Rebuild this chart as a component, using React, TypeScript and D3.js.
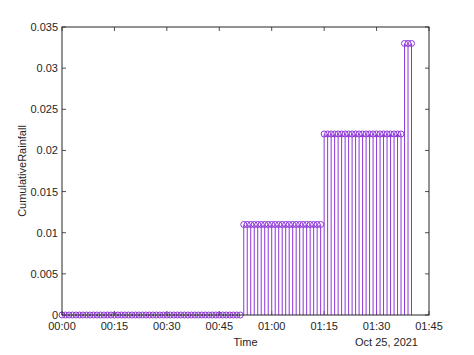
import * as d3 from "d3";
import React, { useEffect, useRef } from "react";

var width = 474;
var height = 355;
var margin = { top: 27, bottom: 40, left: 62, right: 45 };

// one reading per minute, starting 25-Oct-2021 00:00
var startTime = new Date(2021, 9, 25, 0, 0);
var rainfall = [
  0, 0, 0, 0, 0, 0, 0, 0, 0, 0,
  0, 0, 0, 0, 0, 0, 0, 0, 0, 0,
  0, 0, 0, 0, 0, 0, 0, 0, 0, 0,
  0, 0, 0, 0, 0, 0, 0, 0, 0, 0,
  0, 0, 0, 0, 0, 0, 0, 0, 0, 0,
  0, 0, 0.011, 0.011, 0.011, 0.011, 0.011, 0.011, 0.011, 0.011,
  0.011, 0.011, 0.011, 0.011, 0.011, 0.011, 0.011, 0.011, 0.011, 0.011,
  0.011, 0.011, 0.011, 0.011, 0.011, 0.022, 0.022, 0.022, 0.022, 0.022,
  0.022, 0.022, 0.022, 0.022, 0.022, 0.022, 0.022, 0.022, 0.022, 0.022,
  0.022, 0.022, 0.022, 0.022, 0.022, 0.022, 0.022, 0.022, 0.033, 0.033,
  0.033,
];
var yTicks = [0, 0.005, 0.01, 0.015, 0.02, 0.025, 0.03, 0.035];
var xTickLabels = ["00:00", "00:15", "00:30", "00:45", "01:00", "01:15", "01:30", "01:45"];

var stemColor = "#8E35D8";
var axisColor = "#262626";
var font = "Liberation Sans, Arial, sans-serif";

function App() {
  const svgRef = useRef<SVGSVGElement>(null);

  useEffect(() => {
    const svg = d3.select(svgRef.current);
    svg.selectAll("*").remove();

    const x0 = margin.left;
    const x1 = width - margin.right;
    const y0 = height - margin.bottom;
    const y1 = margin.top;

    const data = rainfall.map((v, i) => ({ t: d3.timeMinute.offset(startTime, i), v: v }));
    const xTicks = xTickLabels.map((s) => d3.timeMinute.offset(startTime, +s.slice(0, 2) * 60 + +s.slice(3)));

    const xScale = d3.scaleTime()
      .domain([xTicks[0], xTicks[xTicks.length - 1]])
      .range([x0, x1]);
    const yScale = d3.scaleLinear()
      .domain([0, 0.035])
      .range([y0, y1]);

    svg.append("rect")
      .attr("x", 0).attr("y", 0)
      .attr("width", width).attr("height", height)
      .attr("fill", "#fff");

    const tickLen = 4;
    const ticks = svg.append("g").attr("stroke", axisColor).attr("stroke-width", 0.8);
    xTicks.forEach((t) => {
      const x = xScale(t);
      ticks.append("line").attr("x1", x).attr("x2", x).attr("y1", y0).attr("y2", y0 - tickLen);
      ticks.append("line").attr("x1", x).attr("x2", x).attr("y1", y1).attr("y2", y1 + tickLen);
    });
    yTicks.forEach((v) => {
      const y = yScale(v);
      ticks.append("line").attr("x1", x0).attr("x2", x0 + tickLen).attr("y1", y).attr("y2", y);
      ticks.append("line").attr("x1", x1).attr("x2", x1 - tickLen).attr("y1", y).attr("y2", y);
    });

    // stems
    const stems = svg.append("g");
    stems.selectAll("line")
      .data(data).enter()
      .append("line")
      .attr("x1", (d) => xScale(d.t))
      .attr("x2", (d) => xScale(d.t))
      .attr("y1", yScale(0))
      .attr("y2", (d) => yScale(d.v))
      .attr("stroke", stemColor)
      .attr("stroke-width", 1);

    svg.append("rect")
      .attr("x", x0).attr("y", y1)
      .attr("width", x1 - x0).attr("height", y0 - y1)
      .attr("fill", "none")
      .attr("stroke", axisColor)
      .attr("stroke-width", 1);

    stems.append("g").selectAll("circle")
      .data(data).enter()
      .append("circle")
      .attr("cx", (d) => xScale(d.t))
      .attr("cy", (d) => yScale(d.v))
      .attr("r", 3)
      .attr("fill", "none")
      .attr("stroke", stemColor)
      .attr("stroke-width", 1);

    const labels = svg.append("g")
      .attr("font-family", font)
      .attr("font-size", 11)
      .attr("fill", axisColor);

    labels.selectAll(".ylab")
      .data(yTicks).enter()
      .append("text")
      .attr("x", x0 - 4)
      .attr("y", (d) => yScale(d) + 4)
      .attr("text-anchor", "end")
      .text((d) => (d === 0 ? "0" : String(d)));

    labels.selectAll(".xlab")
      .data(xTicks).enter()
      .append("text")
      .attr("x", (d) => xScale(d))
      .attr("y", y0 + 15)
      .attr("text-anchor", "middle")
      .text((d, i) => xTickLabels[i]);

    labels.append("text")
      .attr("x", (x0 + x1) / 2)
      .attr("y", y0 + 31)
      .attr("text-anchor", "middle")
      .text("Time");

    labels.append("text")
      .attr("x", x1 - 11)
      .attr("y", y0 + 31)
      .attr("text-anchor", "end")
      .text("Oct 25, 2021");

    labels.append("text")
      .attr("transform", "translate(26," + (y0 + y1) / 2 + ") rotate(-90)")
      .attr("text-anchor", "middle")
      .text("CumulativeRainfall");
  }, []);

  return (
    <svg ref={svgRef} width={width} height={height}
      style={{ position: "absolute", left: 0, top: 0, display: "block" }} />
  );
}

export default App;
